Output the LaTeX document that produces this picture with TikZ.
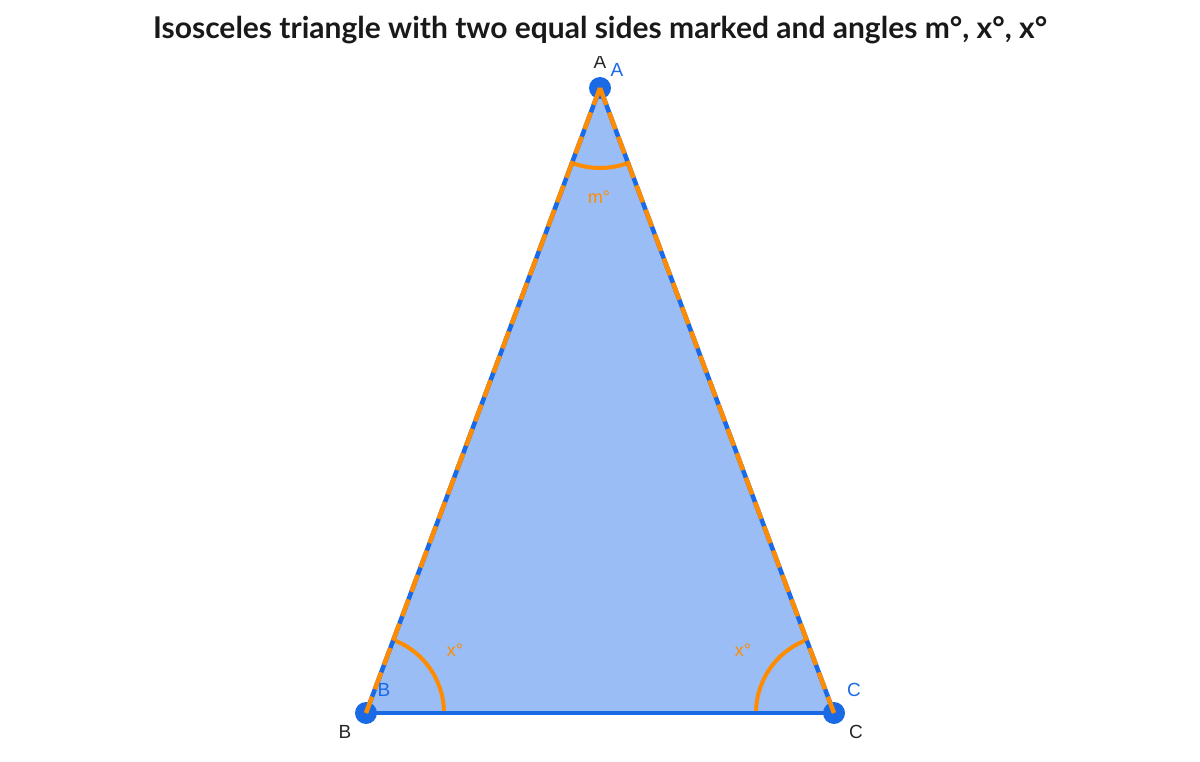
\documentclass[tikz,border=0pt]{standalone}
\usepackage{fontspec}
\setmainfont{Liberation Sans}
\newfontfamily\titlefont{Lato}
\usetikzlibrary{calc}
\definecolor{triblue}{RGB}{26,106,230}
\definecolor{trifill}{RGB}{155,189,245}
\definecolor{triorange}{RGB}{255,140,0}
\tikzset{
  edgeblue/.style={draw=triblue, line width=4.5pt},
  edgeorange/.style={draw=triorange, line width=4.5pt, dash pattern=on 18pt off 8pt},
  anglearc/.style={draw=triorange, line width=4pt},
  vdot/.style={circle, fill=triblue, inner sep=0pt, minimum size=22pt},
  bluelab/.style={text=triblue, font=\fontsize{19}{19}\selectfont},
  blacklab/.style={text=black!85, font=\fontsize{19}{19}\selectfont},
  anglab/.style={text=triorange, font=\fontsize{18}{18}\selectfont},
}
\begin{document}
\begin{tikzpicture}[x=1pt,y=-1pt]
\useasboundingbox (0,0) rectangle (1200,762);
\coordinate (A) at (600,88);
\coordinate (B) at (366,713);
\coordinate (C) at (834,713);
% fill
\fill[trifill] (A) -- (B) -- (C) -- cycle;
% angle arcs
\draw[anglearc] ($(B)+(78,0)$) arc[start angle=0, end angle=-69.5, radius=78];
\draw[anglearc] ($(C)+(-78,0)$) arc[start angle=180, end angle=249.5, radius=78];
\draw[anglearc] ($(A)+(69.5:80)$) arc[start angle=69.5, end angle=110.5, radius=80];
% edges
\draw[edgeblue] (A) -- (B);
\draw[edgeblue] (A) -- (C);
\draw[edgeblue] (B) -- (C);
% vertex dots
\node[vdot] (dA) at (A) {};
\node[vdot] (dB) at (B) {};
\node[vdot] (dC) at (C) {};
\draw[edgeorange] (A) -- (B);
\draw[edgeorange] (A) -- (C);
% labels
\begin{scope}
\clip (0,57) rectangle (1200,762);
\node[blacklab] (lA) at (600,62) {A};
\end{scope}
\node[bluelab] (lA2) at (617,70) {A};
\node[bluelab] (lB2) at (384,690) {B};
\node[blacklab] (lB) at (345,732) {B};
\node[bluelab] (lC2) at (854,690) {C};
\node[blacklab] (lC) at (856,732) {C};
\node[anglab] (mA) at (599,197) {m°};
\node[anglab] (xB) at (455,650) {x°};
\node[anglab] (xC) at (743,650) {x°};
% title
\node[font=\titlefont\bfseries\fontsize{30}{30}\selectfont, text=black!90] (title) at (600,30) {Isosceles triangle with two equal sides marked and angles m°, x°, x°};
\end{tikzpicture}
\end{document}
